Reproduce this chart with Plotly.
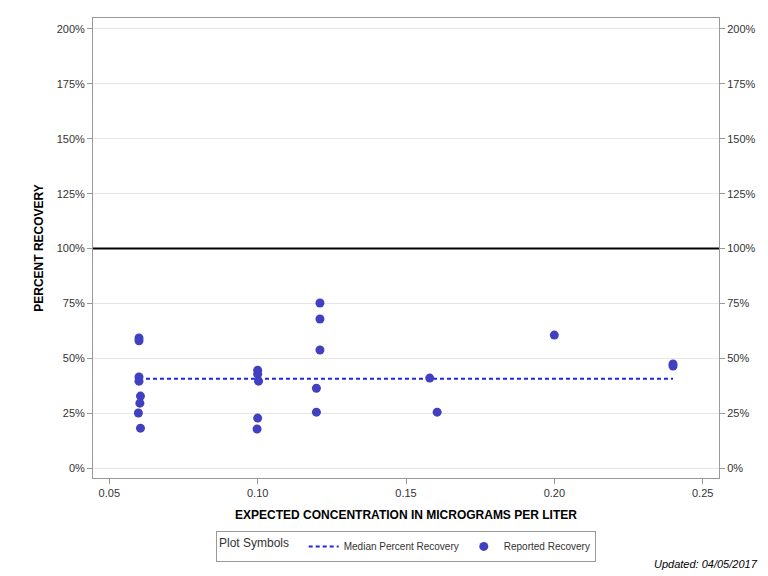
import plotly.graph_objects as go

conc = [0.06, 0.06, 0.06, 0.06, 0.0605, 0.0603, 0.0598, 0.0605,
        0.10, 0.10, 0.1003, 0.10, 0.0998,
        0.121, 0.121, 0.121, 0.1198, 0.1198,
        0.158, 0.1605, 0.20, 0.24, 0.24]
recovery = [59.3, 58.0, 41.5, 39.6, 32.8, 29.6, 25.1, 18.2,
            44.6, 42.8, 39.6, 22.8, 17.8,
            75.2, 67.9, 53.8, 36.4, 25.5,
            41.0, 25.5, 60.6, 47.4, 46.5]
median_x = [0.06, 0.24]
median_y = [40.7, 40.7]
tick_vals = [0, 25, 50, 75, 100, 125, 150, 175, 200]
tick_text = [f"{v}%" for v in tick_vals]

fig = go.Figure()
fig.add_trace(go.Scatter(x=median_x, y=median_y, mode='lines', name='Median Percent Recovery',
                         line=dict(color='#2424e0', width=2, dash='4px,3px')))
fig.add_trace(go.Scatter(x=conc, y=recovery, mode='markers', name='Reported Recovery',
                         marker=dict(size=9, color='#4040c0')))
fig.add_trace(go.Scatter(x=[0.05, 0.25], y=[0, 0], yaxis='y2', showlegend=False,
                         mode='markers', marker=dict(opacity=0), hoverinfo='skip'))
fig.add_shape(type='line', xref='paper', x0=0, x1=1, y0=100, y1=100,
              line=dict(color='black', width=2))

axis_font = dict(family='Arial', size=11, color='#333')
fig.update_layout(
    width=768, height=576, plot_bgcolor='white', paper_bgcolor='white',
    margin=dict(l=85, r=57, t=10, b=106),
    font=dict(family='Arial', size=11, color='#333'),
    xaxis=dict(range=[0.0445, 0.2555], tickvals=[0.05, 0.1, 0.15, 0.2, 0.25],
               ticktext=['0.05', '0.10', '0.15', '0.20', '0.25'], automargin=False,
               title=dict(text='<b>EXPECTED CONCENTRATION IN MICROGRAMS PER LITER</b>',
                          font=dict(size=12, color='black'), standoff=12),
               showgrid=False, showline=True, linecolor='#999', mirror=True,
               ticks='outside', tickcolor='#999', zeroline=False, tickfont=axis_font),
    yaxis=dict(range=[-4.5, 205], tickvals=tick_vals, ticktext=tick_text, automargin=False,
               title=dict(text='<b>PERCENT RECOVERY</b>', font=dict(size=12, color='black'),
                          standoff=10),
               showgrid=True, gridcolor='#e6e6e6', showline=True, linecolor='#999',
               ticks='outside', tickcolor='#999', zeroline=False, tickfont=axis_font),
    yaxis2=dict(range=[-4.5, 205], tickvals=tick_vals, ticktext=tick_text, overlaying='y',
                side='right', showgrid=False, showline=True, linecolor='#999', automargin=False,
                ticks='outside', tickcolor='#999', zeroline=False, tickfont=axis_font),
    legend=dict(orientation='h', x=0.5, xanchor='center', y=-0.115, yanchor='top',
                title=dict(text='Plot Symbols  ', font=dict(size=12)),
                bordercolor='#999', borderwidth=1, font=dict(size=10)),
    showlegend=True,
    annotations=[dict(text='<i>Updated: 04/05/2017</i>', xref='paper', yref='paper',
                      x=1.065, y=-0.17, xanchor='right', yanchor='top', showarrow=False,
                      font=dict(size=11, color='black'))],
)
fig.write_html("out.html")
